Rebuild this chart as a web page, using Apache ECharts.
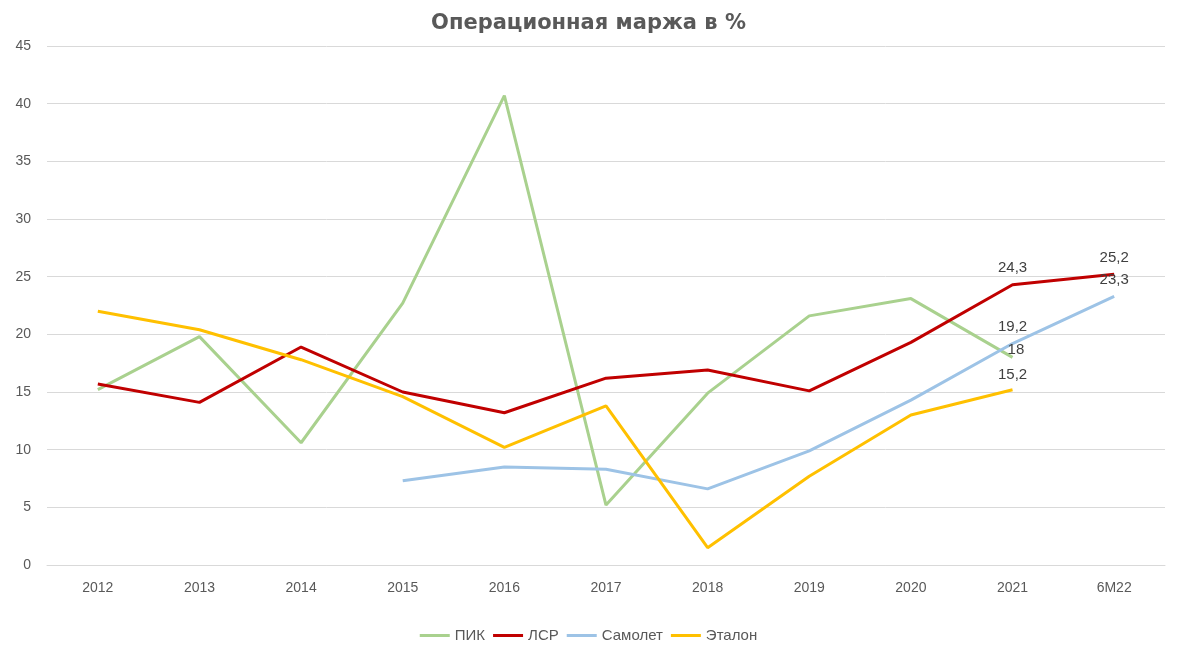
<!DOCTYPE html>
<html>
<head>
<meta charset="utf-8">
<script src="https://cdn.jsdelivr.net/npm/echarts@6/dist/echarts.min.js"></script>
<style>html,body{margin:0;padding:0;background:#fff}#chart{width:1177px;height:656px}</style>
</head>
<body>
<div id="chart"></div>
<script>
// данные графика
var categories = ['2012', '2013', '2014', '2015', '2016', '2017', '2018', '2019', '2020', '2021', '6M22'];
var pik = [15.2, 19.8, 10.6, 22.7, 40.7, 5.2, 14.9, 21.6, 23.1, 18, null];
var lsr = [15.7, 14.1, 18.9, 15.0, 13.2, 16.2, 16.9, 15.1, 19.3, 24.3, 25.2];
var samolet = [null, null, null, 7.3, 8.5, 8.3, 6.6, 9.9, 14.3, 19.2, 23.3];
var etalon = [22.0, 20.4, 17.8, 14.6, 10.2, 13.8, 1.5, 7.7, 13.0, 15.2, null];
var labelFrom = 9; // подписи только для 2021 и 6M22

function fmt(v) { return String(v).replace('.', ','); }

function makeSeries(name, data, color, pos, offset) {
	return {
		name: name,
		type: 'line',
		data: data.map(function(v, i) {
			if (i >= labelFrom && v != null) {
				return { value: v, label: { show: true } };
			}
			return v;
		}),
		symbol: 'circle',
		symbolSize: 0,
		showSymbol: true,
		lineStyle: { color: color, width: 3 },
		itemStyle: { color: color },
		label: {
			show: false, position: pos, offset: offset || [0, 0],
			color: '#404040', fontSize: 15, fontFamily: 'Liberation Sans',
			formatter: function(p) { return fmt(p.value); }
		}
	};
}

var myChart = echarts.init(document.getElementById('chart'));
var option = {
	animation: false,
	title: {
		text: 'Операционная маржа в %',
		left: 'center',
		top: 8,
		textStyle: { fontSize: 21, fontWeight: 'bold', color: '#595959', fontFamily: 'DejaVu Sans' }
	},
	legend: {
		bottom: 8,
		icon: 'path://M0,0 H30 V3 H0 Z',
		itemWidth: 30, itemHeight: 3,
		textStyle: { fontSize: 15, color: '#595959', fontFamily: 'Liberation Sans' },
		data: ['ПИК', 'ЛСР', 'Самолет', 'Эталон']
	},
	grid: { left: 47, right: 12, top: 46, bottom: 91 },
	xAxis: {
		type: 'category',
		data: categories,
		boundaryGap: true,
		axisLine: { lineStyle: { color: '#d9d9d9' } },
		axisTick: { show: false },
		axisLabel: { color: '#595959', fontSize: 14, margin: 16, fontFamily: 'Liberation Sans' }
	},
	yAxis: {
		type: 'value',
		min: 0, max: 45, interval: 5,
		axisLine: { show: false },
		axisTick: { show: false },
		splitLine: { lineStyle: { color: '#d9d9d9' } },
		axisLabel: { color: '#595959', fontSize: 14, margin: 16, fontFamily: 'Liberation Sans' }
	},
	series: [
		makeSeries('ПИК', pik, '#a9d18e', 'right', [-10, -8]),
		makeSeries('ЛСР', lsr, '#c00000', 'top', [0, -4]),
		makeSeries('Самолет', samolet, '#9dc3e6', 'top', [0, -4]),
		makeSeries('Эталон', etalon, '#ffc000', 'top', [0, -2])
	]
};
myChart.setOption(option);
</script>
</body>
</html>
